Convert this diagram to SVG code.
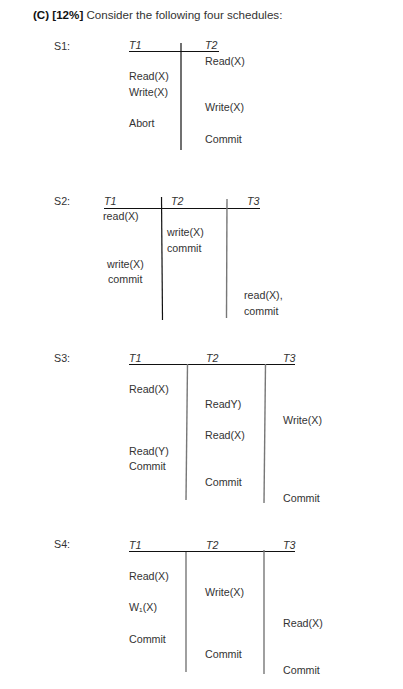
<svg xmlns="http://www.w3.org/2000/svg" width="403" height="689" viewBox="0 0 403 689">
<style>
text{font-family:"Liberation Sans",Arial,sans-serif;font-size:10.7px;fill:#333}
.h{font-style:italic}
.t{font-size:11.6px}
.b{font-weight:bold;fill:#111}
.ln{stroke:#111;stroke-width:1.2;fill:none}
.g{stroke:#777;stroke-width:1.4;fill:none}
</style>
<rect width="403" height="689" fill="#fff"/>
<g id="title"><text class="t" x="33" y="19"><tspan class="b">(C) [12%]</tspan> Consider the following four  schedules:</text></g>

<g id="S1">
<text x="54" y="50">S1:</text>
<text class="h" x="129" y="49">T1</text>
<text class="h" x="205" y="49">T2</text>
<text x="205" y="65">Read(X)</text>
<text x="129" y="80">Read(X)</text>
<text x="129" y="96">Write(X)</text>
<text x="205" y="111">Write(X)</text>
<text x="129" y="127">Abort</text>
<text x="205" y="143">Commit</text>
</g>

<g id="S2">
<text x="54" y="205">S2:</text>
<text class="h" x="104" y="205">T1</text>
<text class="h" x="171" y="205">T2</text>
<text class="h" x="247" y="205">T3</text>
<text x="103" y="220">read(X)</text>
<text x="167" y="236">write(X)</text>
<text x="167" y="252">commit</text>
<text x="107" y="268">write(X)</text>
<text x="108" y="283">commit</text>
<text x="244" y="299">read(X),</text>
<text x="244" y="315">commit</text>
</g>

<g id="S3">
<text x="54" y="362">S3:</text>
<text class="h" x="129" y="362">T1</text>
<text class="h" x="206" y="362">T2</text>
<text class="h" x="283" y="362">T3</text>
<text x="129" y="393">Read(X)</text>
<text x="205" y="408">ReadY)</text>
<text x="283" y="424">Write(X)</text>
<text x="205" y="439">Read(X)</text>
<text x="129" y="455">Read(Y)</text>
<text x="129" y="470">Commit</text>
<text x="205" y="486">Commit</text>
<text x="283" y="502">Commit</text>
</g>

<g id="S4">
<text x="54" y="548">S4:</text>
<text class="h" x="129" y="549">T1</text>
<text class="h" x="206" y="549">T2</text>
<text class="h" x="283" y="549">T3</text>
<text x="129" y="580">Read(X)</text>
<text x="205" y="596">Write(X)</text>
<text x="129" y="611">W₁(X)</text>
<text x="283" y="627">Read(X)</text>
<text x="129" y="643">Commit</text>
<text x="205" y="658">Commit</text>
<text x="283" y="674">Commit</text>
</g>

<g id="connectors">
<line class="ln" x1="129" y1="51.5" x2="219" y2="51.5"/>
<line class="ln" x1="181" y1="43" x2="181" y2="150"/>
<line class="ln" x1="104" y1="208.5" x2="260" y2="208.5"/>
<line class="ln" x1="161.5" y1="197" x2="162.5" y2="320"/>
<line class="g" x1="227" y1="199" x2="226.5" y2="318"/>
<line class="ln" x1="129" y1="364.5" x2="295" y2="364.5"/>
<line class="g" x1="187.5" y1="364" x2="186" y2="500"/>
<line class="g" x1="265.5" y1="364" x2="264" y2="503"/>
<line class="ln" x1="129" y1="551.5" x2="295" y2="551.5"/>
<line class="g" x1="186" y1="552" x2="186" y2="672"/>
<line class="g" x1="264" y1="550" x2="264" y2="674"/>
</g>
</svg>
